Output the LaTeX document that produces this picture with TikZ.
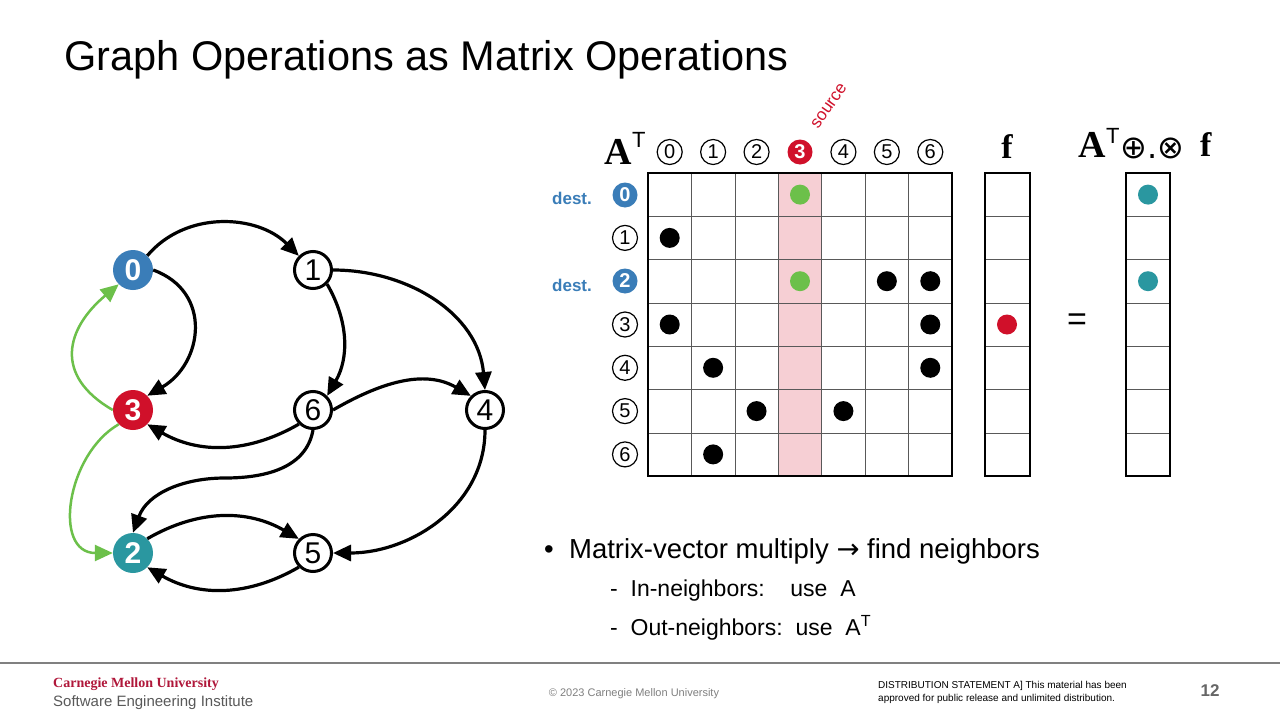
\documentclass[tikz,border=0pt]{standalone}
\usepackage{fontspec}
\setmainfont{Liberation Sans}
\newfontfamily\dejavu{DejaVu Sans}
\newfontfamily\serifb{Liberation Serif}
\usetikzlibrary{arrows.meta}
\definecolor{cblue}{HTML}{3A7DB8}
\definecolor{cred}{HTML}{D0102A}
\definecolor{cteal}{HTML}{2A97A0}
\definecolor{cgreen}{HTML}{6CC04A}
\definecolor{cmu}{HTML}{B0173A}
\begin{document}
\begin{tikzpicture}[x=1pt,y=-1pt,
 gn/.style={circle,draw=black,line width=3pt,minimum size=37pt,inner sep=0pt,font=\fontsize{30}{30}\selectfont,fill=white},
 gf/.style={circle,minimum size=40pt,inner sep=0pt,font=\fontsize{30}{30}\selectfont\bfseries,text=white,fill=#1},
 ed/.style={line width=3.2pt,-{Triangle[length=18pt,width=16pt]}},
 ged/.style={draw=cgreen,line width=2.5pt,-{Triangle[length=18pt,width=16pt,fill=cgreen]}},
 lab/.style={circle,draw=black,line width=1.2pt,minimum size=25pt,inner sep=0pt,font=\fontsize{20}{20}\selectfont},
 labf/.style={circle,fill=#1,minimum size=25pt,inner sep=0pt,text=white,font=\fontsize{20}{20}\selectfont\bfseries},
 dot/.style={circle,fill=#1,minimum size=20pt,inner sep=0pt},
 txt/.style={anchor=west,inner sep=0pt}]
\useasboundingbox (0,0) rectangle (1280,720);
\fill[white] (0,0) rectangle (1280,720);
\node[txt,font=\fontsize{41.5}{42}\selectfont] (title) at (64,60) {Graph Operations as Matrix Operations};
% graph
\node[gf=cblue] (n0) at (133,270) {0};
\node[gn] (n1) at (313,270) {1};
\node[gf=cred] (n3) at (133,410) {3};
\node[gn] (n6) at (313,410) {6};
\node[gn] (n4) at (485,410) {4};
\node[gf=cteal] (n2) at (133,553) {2};
\node[gn] (n5) at (313,553) {5};
\draw[ed] (n0.north east) to[out=50,in=135] (n1.north west);
\draw[ed] (n0.east) to[out=-20,in=30,looseness=1.3] (n3.north east);
\draw[ged] (n3.west) to[out=150,in=-140,looseness=1.4] (n0.south west);
\draw[ged] (n3.south west) to[out=-150,in=-180,looseness=1.2] (n2.west);
\draw[ed] (n1.south east) to[out=-60,in=60] (n6.north east);
\draw[ed] (n1.east) to[out=0,in=95] (n4.north);
\draw[ed] (n6.east) to[out=30,in=150] (n4.north west);
\draw[ed] (n6.south west) to[out=-150,in=-30] (n3.south east);
\draw[ed] (n6.south) to[out=-100,in=0] (225,478) to[out=180,in=70] (n2.north);
\draw[ed] (n2.north east) to[out=30,in=150] (n5.north west);
\draw[ed] (n5.south west) to[out=-150,in=-30] (n2.south east);
\draw[ed] (n4.south) to[out=-90,in=0] (n5.east);
% matrix
\fill[cred!20] (779,173) rectangle (822,476);
\foreach \i in {1,...,6}{
 \draw[gray!70!black,line width=0.6pt] ({648+\i*43.43},173) -- ({648+\i*43.43},476);
 \draw[gray!70!black,line width=0.6pt] (648,{173+\i*43.3}) -- (952,{173+\i*43.3});
 \draw[gray!70!black,line width=0.6pt] (985,{173+\i*43.3}) -- (1030,{173+\i*43.3});
 \draw[gray!70!black,line width=0.6pt] (1126,{173+\i*43.3}) -- (1170,{173+\i*43.3});}
\draw[line width=2.8pt] (648,173) rectangle (952,476);
\draw[line width=2.8pt] (985,173) rectangle (1030,476);
\draw[line width=2.8pt] (1126,173) rectangle (1170,476);
\node[txt,font=\fontsize{38}{38}\selectfont\serifb\bfseries] (AT) at (604,152) {A};
\node[txt,font=\fontsize{22}{22}\selectfont] (ATt) at (632,140) {T};
\foreach \c in {0,1,2,4,5,6}{\node[lab] (c\c) at ({669.7+\c*43.43},152) {\c};}
\node[labf=cred] (c3) at (800,152) {3};
\node[text=cred,rotate=55,font=\fontsize{17}{17}\selectfont,inner sep=0pt] (src) at (829,106) {source};
\foreach \r in {1,3,4,5,6}{\node[lab] (r\r) at (625,{194.6+\r*43.3}) {\r};}
\node[labf=cblue] (r0) at (625,195) {0};
\node[labf=cblue] (r2) at (625,281) {2};
\node[text=cblue,font=\fontsize{17}{17}\selectfont\bfseries] (d0) at (572,198) {dest.};
\node[text=cblue,font=\fontsize{17}{17}\selectfont\bfseries] (d2) at (572,285) {dest.};
\node[font=\fontsize{34}{34}\selectfont\serifb\bfseries] (flab) at (1007,147) {f};
\node[txt,font=\fontsize{38}{38}\selectfont\serifb\bfseries] (res) at (1078,145) {A};
\node[txt,font=\fontsize{22}{22}\selectfont] (rest) at (1106,136) {T};
\node[txt,font=\fontsize{32}{32}\selectfont\dejavu] (ops) at (1120,148) {⊕.⊗};
\node[txt,font=\fontsize{34}{34}\selectfont\serifb\bfseries] (resf) at (1200,145) {f};
% dots
\node[dot=cgreen] at (800,194.6) {};
\node[dot=cgreen] at (800,281.2) {};
\foreach \c/\r in {0/1,5/2,6/2,0/3,6/3,1/4,6/4,2/5,4/5,1/6}{\node[dot=black] at ({669.7+\c*43.43},{194.6+\r*43.3}) {};}
\node[dot=cred] at (1007,324.5) {};
\node[dot=cteal] at (1148,194.6) {};
\node[dot=cteal] at (1148,281.2) {};
\node[font=\fontsize{34}{34}\selectfont] (eq) at (1077,322) {=};
% bullets
\node[txt,font=\fontsize{27.5}{28}\selectfont] (b1) at (544,551) {•\ \ Matrix-vector multiply {\dejavu →} find neighbors};
\node[txt,font=\fontsize{23}{23}\selectfont] (b2) at (610,591) {-\ \ In-neighbors:\ \ \ \ use\ \ A};
\node[txt,font=\fontsize{23}{23}\selectfont] (b3) at (610,628) {-\ \ Out-neighbors:\ \ use\ \ A\textsuperscript{T}};
% footer
\draw[gray,line width=1.5pt] (0,663) -- (1280,663);
\node[txt,text=cmu,font=\fontsize{14}{14}\selectfont\serifb\bfseries] (cmu) at (53,684) {Carnegie Mellon University};
\node[txt,text=gray!70!black,font=\fontsize{15}{15}\selectfont] (sei) at (53,703) {Software Engineering Institute};
\node[text=gray,font=\fontsize{11}{11}\selectfont] (copy) at (634,694) {© 2023 Carnegie Mellon University};
\node[txt,align=left,font=\fontsize{10}{13}\selectfont] (dist) at (878,692) {DISTRIBUTION STATEMENT A] This material has been\\approved for public release and unlimited distribution.};
\node[text=gray!80!black,font=\fontsize{17}{17}\selectfont\bfseries] (pg) at (1210,691) {12};
\end{tikzpicture}
\end{document}
